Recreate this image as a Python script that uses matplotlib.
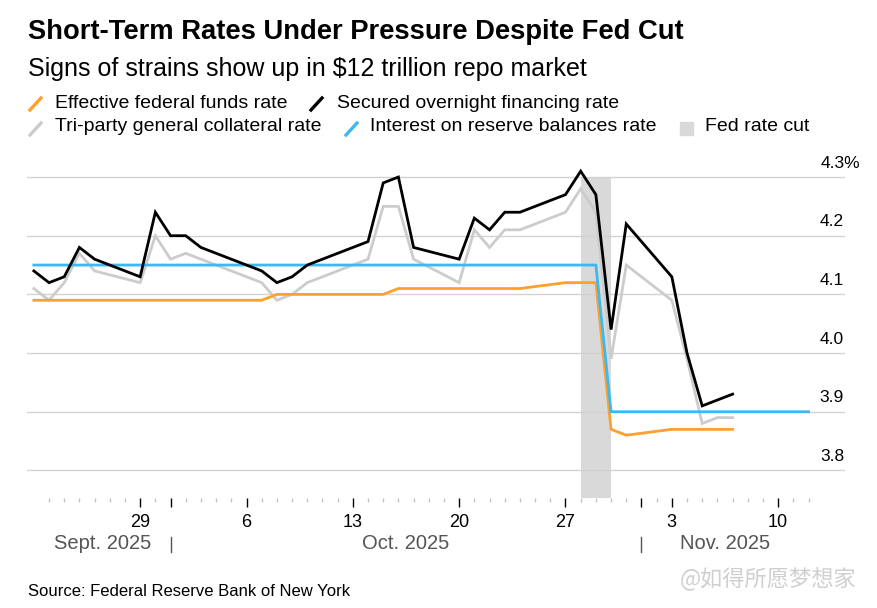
import numpy as np
import matplotlib
matplotlib.use('Agg')
import matplotlib.pyplot as plt
import matplotlib.dates as mdates
import matplotlib.transforms as mtransforms
from matplotlib.lines import Line2D
from matplotlib.patches import Rectangle

plt.rcParams['font.family'] = ['Liberation Sans', 'DejaVu Sans']

# business days shown in the chart (Oct 6 and Oct 13 are not plotted)
rate_dates = np.array(['2025-09-22', '2025-09-23', '2025-09-24', '2025-09-25', '2025-09-26',
                       '2025-09-29', '2025-09-30', '2025-10-01', '2025-10-02', '2025-10-03',
                       '2025-10-07', '2025-10-08', '2025-10-09', '2025-10-10',
                       '2025-10-14', '2025-10-15', '2025-10-16', '2025-10-17',
                       '2025-10-20', '2025-10-21', '2025-10-22', '2025-10-23', '2025-10-24',
                       '2025-10-27', '2025-10-28', '2025-10-29', '2025-10-30', '2025-10-31',
                       '2025-11-03', '2025-11-04', '2025-11-05', '2025-11-06', '2025-11-07'],
                      dtype='datetime64[D]')

sofr = [4.14, 4.12, 4.13, 4.18, 4.16,
        4.13, 4.24, 4.20, 4.20, 4.18,
        4.14, 4.12, 4.13, 4.15,
        4.19, 4.29, 4.30, 4.18,
        4.16, 4.23, 4.21, 4.24, 4.24,
        4.27, 4.31, 4.27, 4.04, 4.22,
        4.13, 4.00, 3.91, 3.92, 3.93]

tgcr = [4.11, 4.09, 4.12, 4.17, 4.14,
        4.12, 4.20, 4.16, 4.17, 4.16,
        4.12, 4.09, 4.10, 4.12,
        4.16, 4.25, 4.25, 4.16,
        4.12, 4.21, 4.18, 4.21, 4.21,
        4.24, 4.28, 4.24, 3.99, 4.15,
        4.09, 3.99, 3.88, 3.89, 3.89]

effr = [4.09, 4.09, 4.09, 4.09, 4.09,
        4.09, 4.09, 4.09, 4.09, 4.09,
        4.09, 4.10, 4.10, 4.10,
        4.10, 4.10, 4.11, 4.11,
        4.11, 4.11, 4.11, 4.11, 4.11,
        4.12, 4.12, 4.12, 3.87, 3.86,
        3.87, 3.87, 3.87, 3.87, 3.87]

iorb_dates = np.array(['2025-09-22', '2025-10-29', '2025-10-30', '2025-11-12'], dtype='datetime64[D]')
iorb = [4.15, 4.15, 3.90, 3.90]

cut_span = np.array(['2025-10-28', '2025-10-30'], dtype='datetime64[D]')

y_ticks = [3.8, 3.9, 4.0, 4.1, 4.2, 4.3]
y_labels = ['3.8', '3.9', '4.0', '4.1', '4.2', '4.3%']

major_days = np.array(['2025-09-29', '2025-10-01', '2025-10-06', '2025-10-13', '2025-10-20',
                       '2025-10-27', '2025-11-01', '2025-11-03', '2025-11-10'], dtype='datetime64[D]')
major_labels = ['29', '', '6', '13', '20', '27', '', '3', '10']
minor_days = np.arange('2025-09-23', '2025-11-13', dtype='datetime64[D]')

months = ['Sept. 2025', 'Oct. 2025', 'Nov. 2025']
month_bounds = np.array(['2025-09-22', '2025-10-01', '2025-11-01', '2025-11-12'], dtype='datetime64[D]')

c_effr = '#FF9F2E'
c_sofr = '#000000'
c_tgcr = '#CCCCCC'
c_iorb = '#3BBAF2'
c_cut = '#D9D9D9'

W, H = 878, 608
fig = plt.figure(figsize=(W / 100, H / 100), dpi=100)

ymin, ymax = 3.753, 4.32
ax = fig.add_axes([27 / W, (H - 498) / H, (845 - 27) / W, (498 - 165.3) / H])
ax.set_ylim(ymin, ymax)
base = mdates.date2num(np.datetime64('2025-09-29'))
ax.set_xlim(base - 7.45, base + 46.4)

# fed cut shading
ax.fill_between(cut_span, ymin, 4.3, color=c_cut, lw=0, zorder=0)

for v in y_ticks:
    ax.axhline(v, color='#D2D2D2', lw=1.0, zorder=1)

lw = 2.0
ax.plot(rate_dates, tgcr, color=c_tgcr, lw=lw, zorder=3, solid_joinstyle='miter')
ax.plot(rate_dates, effr, color=c_effr, lw=lw, zorder=4)
ax.plot(iorb_dates, iorb, color=c_iorb, lw=lw, zorder=5)
ax.plot(rate_dates, sofr, color=c_sofr, lw=lw, zorder=6, solid_joinstyle='miter')

for s in ax.spines.values():
    s.set_visible(False)

# y labels sit above the gridlines, right aligned (the % hangs past the edge)
for v, lab in zip(y_ticks, y_labels):
    dx = 15 if lab.endswith('%') else -1
    tr = mtransforms.offset_copy(ax.get_yaxis_transform(), fig=fig, x=dx, y=14, units='dots')
    ax.text(1.0, v, lab, transform=tr, ha='right', va='center', fontsize=12.5)
ax.set_yticks([])

ax.xaxis.set_major_locator(plt.FixedLocator(mdates.date2num(major_days)))
ax.xaxis.set_major_formatter(plt.FixedFormatter(major_labels))
ax.xaxis.set_minor_locator(plt.FixedLocator(mdates.date2num(minor_days)))
ax.tick_params(axis='x', which='major', length=6.5, width=1.0, color='black',
               labelsize=13, pad=5)
ax.tick_params(axis='x', which='minor', length=3.2, width=1.0, color='#C4C4C4')

# month labels and separators
xtr = ax.get_xaxis_transform()
mnums = mdates.date2num(month_bounds)
for i, m in enumerate(months):
    ax.text((mnums[i] + mnums[i + 1]) / 2, -0.138, m, transform=xtr, ha='center', va='center',
            fontsize=14.5, color='#555555')
for d in mnums[1:3]:
    ax.plot([d, d], [-0.117, -0.163], transform=xtr, color='#555555', lw=1.0, clip_on=False)

# header
fig.text(28 / W, 1 - 32 / H, 'Short-Term Rates Under Pressure Despite Fed Cut',
         fontsize=19.7, fontweight='bold', va='center')
fig.text(28 / W, 1 - 69 / H, 'Signs of strains show up in $12 trillion repo market',
         fontsize=18, va='center')

# legend
def slash(x, y, color):
    fig.add_artist(Line2D([x / W, (x + 11) / W], [1 - (y + 6) / H, 1 - (y - 6) / H],
                          color=color, lw=2.4, transform=fig.transFigure))

slash(30, 104, c_effr)
fig.text(55 / W, 1 - 103 / H, 'Effective federal funds rate', fontsize=14, va='center')
slash(311, 104, c_sofr)
fig.text(337 / W, 1 - 103 / H, 'Secured overnight financing rate', fontsize=14, va='center')
slash(30, 129, c_tgcr)
fig.text(55 / W, 1 - 127 / H, 'Tri-party general collateral rate', fontsize=14, va='center')
slash(346, 129, c_iorb)
fig.text(370 / W, 1 - 127 / H, 'Interest on reserve balances rate', fontsize=14, va='center')
fig.add_artist(Rectangle((680 / W, 1 - 135 / H), 13 / W, 12.5 / H, color=c_cut,
                         transform=fig.transFigure))
fig.text(705 / W, 1 - 127 / H, 'Fed rate cut', fontsize=14, va='center')

fig.text(28 / W, 1 - 591 / H, 'Source: Federal Reserve Bank of New York', fontsize=12, va='center')
fig.text(680 / W, 1 - 579 / H, '@如得所愿梦想家', fontsize=16, va='center', color='#CFCFCF',
         family=['Noto Sans CJK SC', 'DejaVu Sans'])

fig.savefig('out.png', dpi=100)
